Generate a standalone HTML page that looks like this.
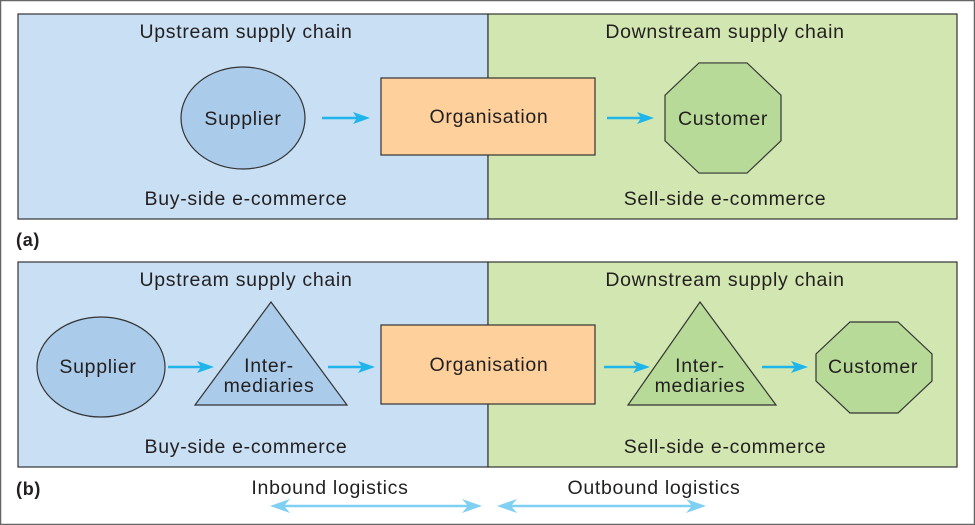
<!DOCTYPE html><html><head><style>body{margin:0;background:#fff}svg{display:block}text{font-family:"Liberation Sans",sans-serif;fill:#231f20;letter-spacing:0.7px}</style></head><body>
<svg width="975" height="525" viewBox="0 0 975 525">
<rect x="0.5" y="0.5" width="974" height="524" fill="none" stroke="#666" stroke-width="1.5"/>
<g stroke="#333" stroke-width="1.2">
<rect x="18" y="14" width="470" height="205" fill="#c8dff4"/><rect x="488" y="14" width="469" height="205" fill="#d1e6b0"/>
<rect x="18" y="262" width="470" height="205" fill="#c8dff4"/><rect x="488" y="262" width="469" height="205" fill="#d1e6b0"/>
<ellipse cx="243" cy="118" rx="62" ry="51" fill="#aacbea"/>
<rect x="381" y="78" width="214" height="77" fill="#fdd09c"/>
<polygon points="699,60 747,60 781,94 781,142 747,176 699,176 665,142 665,94" transform="translate(723,118) scale(1,0.95) translate(-723,-118)" fill="#b7da98"/>
<ellipse cx="101" cy="367" rx="64" ry="50" fill="#aacbea"/>
<polygon points="271,302 347,405 195,405" fill="#aacbea"/>
<rect x="381" y="325" width="214" height="79" fill="#fdd09c"/>
<polygon points="700,302 776,405 628,405" fill="#b7da98"/>
<polygon points="850,322 898,322 932,354 932,381 898,413 850,413 816,381 816,354" fill="#b7da98"/>
</g>
<g stroke="#1fb5ea" stroke-width="2.5">
<line x1="322" y1="118" x2="360" y2="118"/><line x1="607" y1="118" x2="644" y2="118"/>
<line x1="168" y1="367" x2="204" y2="367"/><line x1="328" y1="367" x2="365" y2="367"/>
<line x1="604" y1="367" x2="640" y2="367"/><line x1="762" y1="367" x2="798" y2="367"/>
</g>
<g fill="#1fb5ea">
<path d="M370,118L353,112L357,118L353,124z"/><path d="M654,118L637,112L641,118L637,124z"/>
<path d="M214,367L197,361L201,367L197,373z"/><path d="M375,367L358,361L362,367L358,373z"/>
<path d="M650,367L633,361L637,367L633,373z"/><path d="M808,367L791,361L795,367L791,373z"/>
</g>
<g stroke="#7fd0f2" stroke-width="2.5">
<line x1="280" y1="506" x2="472" y2="506"/><line x1="507" y1="506" x2="696" y2="506"/>
</g>
<g fill="#7fd0f2">
<path d="M270,506L290,499L284,506L290,513z"/><path d="M482,506L462,499L468,506L462,513z"/>
<path d="M497,506L517,499L511,506L517,513z"/><path d="M706,506L686,499L692,506L686,513z"/>
</g>
<g font-size="19.5" text-anchor="middle">
<text x="246" y="38">Upstream supply chain</text><text x="725" y="38">Downstream supply chain</text>
<text x="246" y="205">Buy-side e-commerce</text><text x="725" y="205">Sell-side e-commerce</text>
<text x="243" y="125">Supplier</text><text x="489" y="123">Organisation</text><text x="723" y="125">Customer</text>
<text x="246" y="286">Upstream supply chain</text><text x="725" y="286">Downstream supply chain</text>
<text x="246" y="453">Buy-side e-commerce</text><text x="725" y="453">Sell-side e-commerce</text>
<text x="98" y="373">Supplier</text><text x="269" y="372">Inter-</text><text x="269" y="392">mediaries</text>
<text x="489" y="371">Organisation</text><text x="700" y="372">Inter-</text><text x="700" y="392">mediaries</text>
<text x="873" y="373">Customer</text>
<text x="330" y="494">Inbound logistics</text><text x="654" y="494">Outbound logistics</text>
</g>
<g font-size="18" font-weight="bold"><text x="16" y="246">(a)</text><text x="16" y="495">(b)</text></g>
</svg></body></html>
